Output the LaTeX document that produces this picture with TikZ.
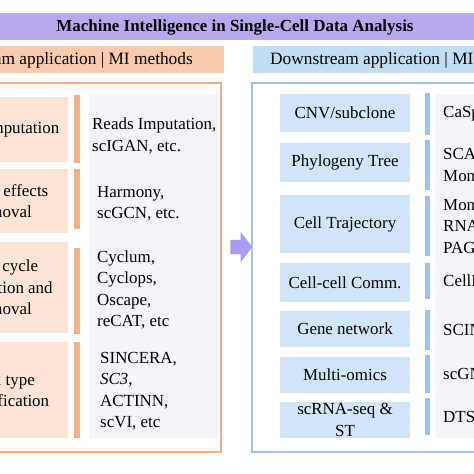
\documentclass[tikz,border=0pt]{standalone}
\usepackage{fontspec}
\setmainfont{Liberation Serif}
\usetikzlibrary{shapes.arrows}

\definecolor{titlebar}{RGB}{184,168,238}
\definecolor{peachhead}{RGB}{248,203,173}
\definecolor{bluehead}{RGB}{194,222,244}
\definecolor{pinkbox}{RGB}{252,228,214}
\definecolor{orangebar}{RGB}{244,177,131}
\definecolor{bluebox}{RGB}{208,230,248}
\definecolor{bluebar}{RGB}{157,195,230}
\definecolor{toolbg}{RGB}{243,245,249}
\definecolor{flowc}{RGB}{170,155,240}

\tikzset{
  txt/.style={font=\fontsize{17}{21.5}\selectfont, inner sep=0pt},
  headtxt/.style={font=\fontsize{17.4}{21.5}\selectfont, inner sep=0pt},
  taskbox/.style={txt, fill=pinkbox, align=center, minimum width=128bp},
  topicbox/.style={txt, fill=bluebox, align=center, minimum width=130bp},
  tooltxt/.style={txt, align=left, anchor=west}
}

\begin{document}
\begin{tikzpicture}[x=1bp,y=-1bp]
	\useasboundingbox (0,0) rectangle (474,474);
	\clip (0,0) rectangle (474,474);

	% title and headers
	\fill[titlebar] (0,13) rectangle (474,40);
	\node[txt, font=\fontsize{17}{21.5}\selectfont\bfseries, anchor=base] (title) at (235,32) {Machine Intelligence in Single-Cell Data Analysis};
	\fill[peachhead] (-20,46) rectangle (224,73);
	\node[headtxt, anchor=base east] (uphead) at (193,65) {Upstream application | MI methods};
	\fill[bluehead] (253,46) rectangle (520,73);
	\node[headtxt, anchor=base west] (downhead) at (270,65) {Downstream application | MI methods};

	% panels
	\draw[orangebar, line width=1.5bp] (-20,83) rectangle (221,452);
	\draw[bluebar, line width=1.5bp] (252,83) rectangle (520,452);
	\fill[toolbg] (89,94) rectangle (218,438);
	\fill[toolbg] (435,94) rectangle (520,438);

	% upstream
	\foreach \i/\ya/\yb/\ba/\bb/\task/\tx/\ty/\tool in {
		1/97/162/95/163/{Data Imputation}/92/136/{Reads Imputation,\\scIGAN, etc.},
		2/169/233/169/229/{Batch effects\\removal}/97/204/{Harmony,\\scGCN, etc.},
		3/242/333/248/334/{Cell cycle\\correction and\\removal}/97/290/{Cyclum,\\Cyclops,\\Oscape,\\reCAT, etc},
		4/342/438/342/438/{Cell type\\identification}/100/391/{SINCERA,\\\textit{SC3},\\ACTINN,\\scVI, etc}}
	{
		\pgfmathsetmacro\h{\yb-\ya}
		\node[taskbox, minimum height=\h bp] (task\i) at (4,{(\ya+\yb)/2}) {\task};
		\fill[orangebar] (74,\ba) rectangle (80,\bb);
		\node[tooltxt] (uptool\i) at (\tx,\ty) {\tool};
	}

	\node[single arrow, fill=flowc, inner sep=7bp, minimum height=22bp,
		single arrow head extend=8bp, single arrow tip angle=105] (flow) at (238.5,247) {};

	% downstream
	\foreach \i/\ya/\yb/\ba/\bb/\topic/\tool in {
		1/94/132/93/135/{CNV/subclone}/{CaSpER},
		2/143/182/140/190/{Phylogeny Tree}/{SCARLET,\\MonoVar},
		3/195/253/196/256/{Cell Trajectory}/{Monocle,\\RNA velocity,\\PAGA},
		4/263/302/263/299/{Cell-cell Comm.}/{CellPhoneDB},
		5/311/347/310/350/{Gene network}/{SCINGE},
		6/357/393/355/393/{Multi-omics}/{scGNN},
		7/402/438/398/435/{scRNA-seq \&\\ST}/{DTSEA}}
	{
		\pgfmathsetmacro\h{\yb-\ya}
		\node[topicbox, minimum height=\h bp] (topic\i) at (345,{(\ya+\yb)/2}) {\topic};
		\fill[bluebar] (425,\ba) rectangle (430,\bb);
		\node[tooltxt] (downtool\i) at (443,{(\ba+\bb)/2}) {\tool};
	}
\end{tikzpicture}
\end{document}
